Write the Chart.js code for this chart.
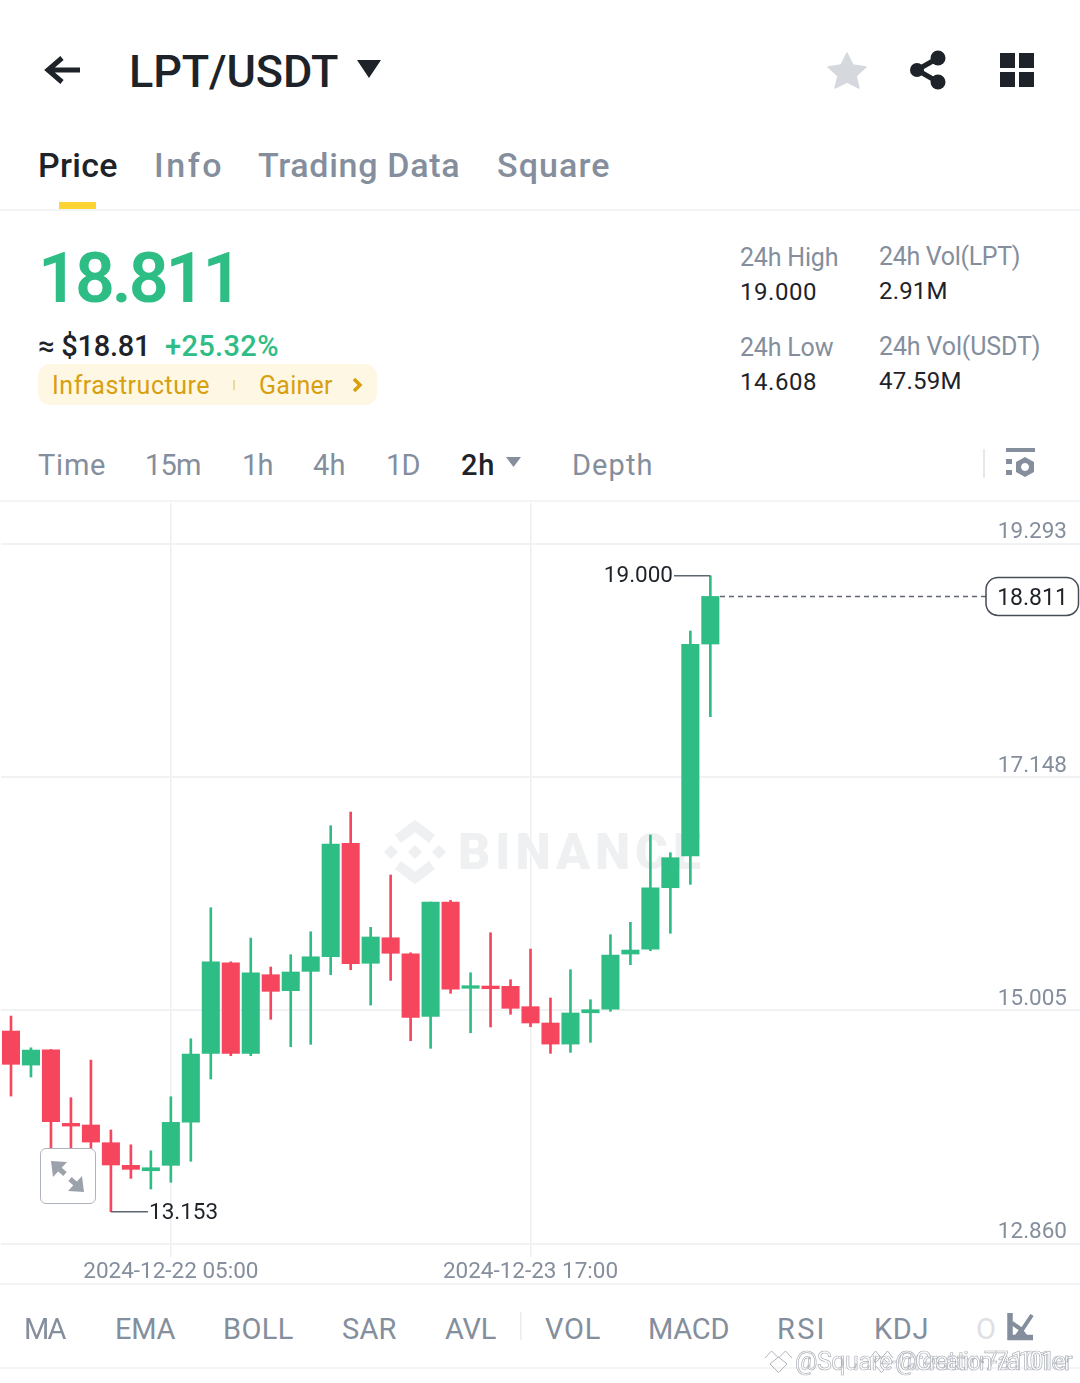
<!DOCTYPE html>
<html>
<head>
<meta charset="utf-8">
<title>LPT/USDT</title>
<script src="https://cdn.jsdelivr.net/npm/chart.js@4/dist/chart.umd.min.js"></script>
<style>
html,body{margin:0;padding:0;background:#fff;}
body{position:relative;width:1080px;height:1383px;overflow:hidden;font-family:Roboto,sans-serif;color:#1E2329;}
.t{position:absolute;white-space:nowrap;line-height:1;transform:translateY(-50%);}
.g{color:#848E9C;}
.sep{position:absolute;left:0;width:1080px;height:2px;background:#F3F4F5;}
svg{position:absolute;overflow:visible;left:0;top:0;}
#chartBox{position:absolute;left:0;top:503px;width:1080px;height:780px;}
#expand{position:absolute;left:40px;top:1148px;width:54px;height:54px;background:#fff;border:1.5px solid #AEB4BC;border-radius:6px;}
.wm{position:absolute;white-space:nowrap;font-size:25px;line-height:1;color:#fff;-webkit-text-stroke:0.7px #AEB3BA;}
</style>
</head>
<body>

<!-- header -->
<svg width="1080" height="1383">
  <path d="M80 70H49M62 58L48 70L62 82" fill="none" stroke="#1E2329" stroke-width="5"/>
  <path d="M357 60H381L369 78Z" fill="#1E2329"/>
  <path d="M847 53L853 65L866 67L856 76L859 88L847 82L835 88L838 76L828 67L841 65Z" fill="#D5D9DD" stroke="#D5D9DD" stroke-width="1.5" stroke-linejoin="round"/>
  <path d="M938 58L917 70L938 82" fill="none" stroke="#1E2329" stroke-width="5"/>
  <circle cx="917" cy="70" r="7" fill="#1E2329"/><circle cx="938" cy="58" r="7.5" fill="#1E2329"/><circle cx="938" cy="82" r="7.5" fill="#1E2329"/>
  <path d="M1000 53h15v15h-15zM1019 53h15v15h-15zM1000 72h15v15h-15zM1019 72h15v15h-15z" fill="#1E2329"/>
  <rect x="59" y="202" width="37" height="7" fill="#FCD535"/>
  <rect x="38" y="364" width="339" height="41" rx="12" fill="#FEF7E3"/>
  <rect x="233" y="380" width="2" height="10" fill="#EBD9A0"/>
  <path d="M354 379L360 385L354 391" fill="none" stroke="#D89F0F" stroke-width="3.5"/>
  <path d="M506 457H521L513.5 467Z" fill="#848E9C"/>
  <rect x="983" y="449" width="2" height="29" fill="#E6E8EA"/>
  <rect x="1006" y="448" width="29" height="4" fill="#848E9C"/>
  <path d="M1006 459h6v5h-6zM1006 470h6v5h-6z" fill="#848E9C"/>
  <path d="M1025 457L1034 462V472L1025 477L1016 472V462ZM1025 463a4 4 0 1 0 0.01 0Z" fill="#848E9C" fill-rule="evenodd"/>
  <rect x="520" y="1312" width="1.5" height="28" fill="#EAECEF"/>
  <path d="M1010 1313V1337.500H1033" fill="none" stroke="#848E9C" stroke-width="5.500"/>
  <path d="M1012 1323L1022 1330L1032 1315" fill="none" stroke="#848E9C" stroke-width="4"/>
  <path d="M1015 1335L1021 1327L1027 1335Z" fill="#848E9C"/>
</svg>

<span class="t" style="left:130px;top:71px;font-size:45px;font-weight:500" data-w="208">LPT/USDT</span>
<span class="t" style="left:39px;top:165px;font-size:34px;font-weight:500" data-w="78">Price</span>
<span class="t g" style="left:155px;top:165px;font-size:34px;font-weight:500" data-w="66">Info</span>
<span class="t g" style="left:259px;top:165px;font-size:34px;font-weight:500" data-w="200">Trading Data</span>
<span class="t g" style="left:498px;top:165px;font-size:34px;font-weight:500" data-w="111">Square</span>
<div class="sep" style="top:209px"></div>

<!-- price block -->
<span class="t" style="left:39px;top:278px;font-size:70px;font-weight:600;color:#2EBD85" data-w="203">18.811</span>
<span class="t" style="left:39px;top:346px;font-size:29px;font-weight:500" data-w="111">≈ $18.81</span>
<span class="t" style="left:166px;top:346px;font-size:29px;font-weight:500;color:#2EBD85" data-w="112">+25.32%</span>
<span class="t" style="left:53px;top:385px;font-size:25px;color:#D89F0F" data-w="156">Infrastructure</span>
<span class="t" style="left:260px;top:385px;font-size:25px;color:#D89F0F" data-w="72">Gainer</span>

<span class="t g" style="left:741px;top:257px;font-size:25px" data-w="97">24h High</span>
<span class="t g" style="left:880px;top:256px;font-size:25px" data-w="140">24h Vol(LPT)</span>
<span class="t" style="left:741px;top:292px;font-size:24px" data-w="75">19.000</span>
<span class="t" style="left:880px;top:291px;font-size:24px" data-w="67">2.91M</span>
<span class="t g" style="left:741px;top:347px;font-size:25px" data-w="92">24h Low</span>
<span class="t g" style="left:880px;top:346px;font-size:25px" data-w="160">24h Vol(USDT)</span>
<span class="t" style="left:741px;top:382px;font-size:24px" data-w="75">14.608</span>
<span class="t" style="left:880px;top:381px;font-size:24px" data-w="81">47.59M</span>

<!-- intervals -->
<span class="t g" style="left:39px;top:465px;font-size:29px" data-w="66">Time</span>
<span class="t g" style="left:146px;top:465px;font-size:29px" data-w="55">15m</span>
<span class="t g" style="left:243px;top:465px;font-size:29px" data-w="30">1h</span>
<span class="t g" style="left:314px;top:465px;font-size:29px" data-w="31">4h</span>
<span class="t g" style="left:387px;top:465px;font-size:29px" data-w="33">1D</span>
<span class="t" style="left:462px;top:465px;font-size:29px;font-weight:500" data-w="32">2h</span>
<span class="t g" style="left:573px;top:465px;font-size:29px" data-w="79">Depth</span>
<div class="sep" style="top:500px"></div>

<div id="chartBox"><canvas id="kline" width="1080" height="780"></canvas></div>
<div class="sep" style="top:1283px"></div>

<div id="expand">
  <svg width="54" height="54">
    <path d="M10 12L26 13L12 28Z M43 43L27 42L41 27Z" fill="#9BA2AC"/>
    <path d="M16 18L24 25M37 37L29 30" stroke="#9BA2AC" stroke-width="5"/>
  </svg>
</div>

<!-- indicators -->
<span class="t g" style="left:25px;top:1329px;font-size:29px" data-w="41">MA</span>
<span class="t g" style="left:116px;top:1329px;font-size:29px" data-w="59">EMA</span>
<span class="t g" style="left:224px;top:1329px;font-size:29px" data-w="69">BOLL</span>
<span class="t g" style="left:343px;top:1329px;font-size:29px" data-w="53">SAR</span>
<span class="t g" style="left:446px;top:1329px;font-size:29px" data-w="50">AVL</span>
<span class="t g" style="left:546px;top:1329px;font-size:29px" data-w="54">VOL</span>
<span class="t g" style="left:649px;top:1329px;font-size:29px" data-w="80">MACD</span>
<span class="t g" style="left:778px;top:1329px;font-size:29px" data-w="46">RSI</span>
<span class="t g" style="left:875px;top:1329px;font-size:29px" data-w="53">KDJ</span>
<span class="t" style="left:976px;top:1329px;font-size:29px;color:#DDE0E4">O</span>
<div class="sep" style="top:1367px"></div>

<!-- reposted-by marks -->
<svg width="1080" height="1383">
  <path d="M765 1358l6.500 -7l7 7l7 -7l6.500 7M770 1364l8.500 8.500l8.500 -8.500l-8.500 -7zM870 1358l5.500 -7l6 7l6 -7l5.500 7M874 1364l7.500 8.500l7.500 -8.500l-7.500 -7z" fill="none" stroke="#B0B5BB" stroke-width="1"/>
</svg>
<span class="wm" style="left:796px;top:1349px" data-w="276">@Square-Creator-7a101er</span>
<span class="wm" style="left:896px;top:1349px" data-w="176">@Creation-7a101er</span>

<script>
// 2h candles
var times = [
  '2024-12-21 13:00','2024-12-21 15:00','2024-12-21 17:00','2024-12-21 19:00','2024-12-21 21:00','2024-12-21 23:00',
  '2024-12-22 01:00','2024-12-22 03:00','2024-12-22 05:00','2024-12-22 07:00','2024-12-22 09:00','2024-12-22 11:00',
  '2024-12-22 13:00','2024-12-22 15:00','2024-12-22 17:00','2024-12-22 19:00','2024-12-22 21:00','2024-12-22 23:00',
  '2024-12-23 01:00','2024-12-23 03:00','2024-12-23 05:00','2024-12-23 07:00','2024-12-23 09:00','2024-12-23 11:00',
  '2024-12-23 13:00','2024-12-23 15:00','2024-12-23 17:00','2024-12-23 19:00','2024-12-23 21:00','2024-12-23 23:00',
  '2024-12-24 01:00','2024-12-24 03:00','2024-12-24 05:00','2024-12-24 07:00','2024-12-24 09:00','2024-12-24 11:00'
];
var opens = [
  14.814,14.501,14.642,13.965,13.950,13.787,13.579,13.529,13.579,13.977,14.609,15.442,
  14.609,15.332,15.185,15.363,15.497,16.540,15.437,15.672,15.525,14.949,16.000,15.207,
  15.228,15.225,15.038,14.888,14.694,14.982,15.014,15.522,15.568,16.132,16.424,18.373
];
var highs = [
  14.952,14.660,14.644,14.201,14.547,13.904,13.768,13.713,14.210,14.743,15.948,15.451,
  15.669,15.403,15.516,15.727,16.702,16.828,15.768,16.249,15.534,16.000,16.016,15.350,
  15.718,15.286,15.568,15.118,15.378,15.102,15.700,15.814,16.617,16.454,18.493,19.000
];
var lows = [
  14.216,14.391,13.674,13.720,13.720,13.153,13.459,13.361,13.423,13.616,14.373,14.587,
  14.587,14.922,14.670,14.692,15.332,15.378,15.053,15.280,14.725,14.655,15.161,14.798,
  14.851,14.968,14.854,14.609,14.618,14.710,14.995,15.424,15.553,15.713,16.163,17.705
];
var closes = [
  14.508,14.639,13.980,13.940,13.793,13.582,13.542,13.557,13.974,14.603,15.451,14.609,
  15.350,15.179,15.357,15.497,16.534,15.433,15.679,15.529,14.940,16.000,15.198,15.231,
  15.203,15.023,14.888,14.694,14.980,15.010,15.513,15.559,16.132,16.408,18.371,18.811
];
var yTicks = [19.293,17.148,15.005,12.860];
var xTicks = ['2024-12-22 05:00','2024-12-23 17:00'];
var lastPrice = 18.811, topPrice = 19.000, lowPrice = 13.153;

var GREEN = '#2EBD85', RED = '#F6465D';
var colors = opens.map(function(o, i){ return closes[i] >= o ? GREEN : RED; });
// empty slots keep the room on the right of the last candle
var labels = times.concat(new Array(18).fill(''));

// watermark below the candles
var watermark = {
  id: 'watermark',
  beforeDatasetsDraw: function(c){
    var x = c.ctx;
    x.save();
    x.fillStyle = '#EFF0F1';
    x.font = '900 50px Roboto';
    x.textBaseline = 'middle';
    x.letterSpacing = '5px';
    x.fillText('BINANCE', 458, 856 - 503);
    var cx = 415, cy = 852 - 503;
    function d(px, py, r){
      x.beginPath();
      x.moveTo(px, py - r); x.lineTo(px + r, py); x.lineTo(px, py + r); x.lineTo(px - r, py);
      x.closePath(); x.fill();
    }
    d(cx, cy, 7); d(cx - 24, cy, 7); d(cx + 24, cy, 7);
    x.strokeStyle = '#EFF0F1';
    x.lineWidth = 10;
    x.beginPath(); x.moveTo(cx - 17, cy - 13); x.lineTo(cx, cy - 26); x.lineTo(cx + 17, cy - 13); x.stroke();
    x.beginPath(); x.moveTo(cx - 17, cy + 13); x.lineTo(cx, cy + 26); x.lineTo(cx + 17, cy + 13); x.stroke();
    x.restore();
  }
};

// high / low callouts and the last price pill
var callouts = {
  id: 'callouts',
  afterDatasetsDraw: function(c){
    var x = c.ctx, sx = c.scales.x, sy = c.scales.y;
    var iHigh = highs.indexOf(topPrice), iLow = lows.indexOf(lowPrice);
    var yh = sy.getPixelForValue(topPrice), yl = sy.getPixelForValue(lowPrice), yp = sy.getPixelForValue(lastPrice);
    var xh = sx.getPixelForValue(iHigh), xl = sx.getPixelForValue(iLow);
    x.save();
    x.strokeStyle = '#5E6673';
    x.lineWidth = 1.5;
    x.beginPath(); x.moveTo(674, yh); x.lineTo(xh, yh); x.stroke();
    x.beginPath(); x.moveTo(xl, yl); x.lineTo(148, yl); x.stroke();
    x.setLineDash([5, 4]);
    x.beginPath(); x.moveTo(720, yp); x.lineTo(986, yp); x.stroke();
    x.setLineDash([]);
    x.fillStyle = '#fff';
    x.strokeStyle = '#474D57';
    x.beginPath(); x.roundRect(986, yp - 19, 92.5, 38, 12); x.fill(); x.stroke();
    x.fillStyle = '#1E2329';
    x.font = '22.5px Roboto';
    x.textBaseline = 'middle';
    x.textAlign = 'right';
    x.fillText(topPrice.toFixed(3), 673, yh + 1);
    x.textAlign = 'left';
    x.fillText(lowPrice.toFixed(3), 149, yl + 2);
    x.textAlign = 'center';
    x.font = '23px Roboto';
    x.fillText(lastPrice.toFixed(3), 1032.5, yp + 3);
    x.restore();
  }
};

var ctx = document.getElementById('kline');
var myChart = new Chart(ctx, {
  type: 'bar',
  plugins: [watermark, callouts],
  data: {
    labels: labels,
    datasets: [
      { data: opens.map(function(o, i){ return [o, closes[i]]; }), backgroundColor: colors, barThickness: 17.4, grouped: false, order: 1 },
      { data: lows.map(function(l, i){ return [l, highs[i]]; }), backgroundColor: colors, barThickness: 2, grouped: false, order: 2 }
    ]
  },
  options: {
    responsive: false,
    animation: false,
    layout: { padding: { left: 1, right: 0, top: 0, bottom: 0 } },
    plugins: { legend: { display: false }, title: { display: false }, tooltip: { enabled: false } },
    scales: {
      x: {
        afterBuildTicks: function(a){ a.ticks = a.ticks.filter(function(t){ return xTicks.indexOf(labels[t.value]) >= 0; }); },
        afterFit: function(a){ a.height = 26; a.paddingLeft = 0; a.paddingRight = 0; },
        border: { display: false },
        grid: { offset: false, drawTicks: false, color: '#EEEFF1', lineWidth: 1.5 },
        ticks: { autoSkip: false, maxRotation: 0, padding: 2, color: '#848E9C', font: { family: 'Roboto', size: 22.5 } }
      },
      y: {
        position: 'right',
        min: 12.736,
        max: 19.670,
        afterBuildTicks: function(a){ a.ticks = yTicks.map(function(v){ return { value: v }; }); },
        afterFit: function(a){ a.width = 0; a.paddingTop = 0; a.paddingBottom = 0; },
        border: { display: false },
        grid: { drawTicks: false, color: '#F1F2F3', lineWidth: 2 },
        ticks: {
          mirror: true, align: 'end', padding: -13, autoSkip: false, color: '#848E9C',
          font: { family: 'Roboto', size: 22.5 },
          callback: function(v){ return v.toFixed(3); }
        }
      }
    }
  }
});

// squeeze each text to the width it has in the picture
document.querySelectorAll('[data-w]').forEach(function(el){
  var w = +el.getAttribute('data-w') + 1.5;
  el.style.left = (parseFloat(el.style.left) - 1) + 'px';
  var now = el.getBoundingClientRect().width;
  el.style.letterSpacing = ((w - now) / (el.textContent.length - 1)) + 'px';
});
</script>
</body>
</html>
